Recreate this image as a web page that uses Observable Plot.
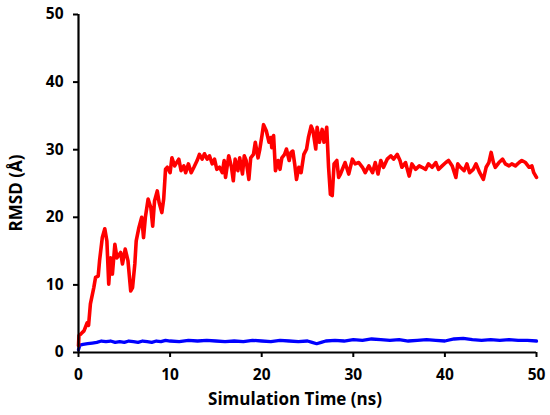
<!DOCTYPE html>
<html>
<head>
<meta charset="utf-8">
<script src="https://cdn.jsdelivr.net/npm/d3@7"></script>
<script src="https://cdn.jsdelivr.net/npm/@observablehq/plot@0.6"></script>
<style>
  html, body { margin: 0; padding: 0; background: #fff; }
  #chart { width: 550px; height: 415px; }
</style>
</head>
<body>
<div id="chart"></div>
<script>
const xTicks = [0, 10, 20, 30, 40, 50];
const yTicks = [0, 10, 20, 30, 40, 50];
const xLabel = "Simulation Time (ns)";
const yLabel = "RMSD (Å)";

const redTime = [0,0.05,0.3,0.6,0.95,1.1,1.3,1.67,1.86,2.15,2.3,2.6,2.87,3.1,3.3,3.5,3.7,3.97,4.2,4.6,4.8,5.1,5.4,5.7,5.9,6.15,6.3,6.6,6.9,7.1,7.3,7.6,7.9,8.1,8.3,8.6,8.8,9.1,9.3,9.5,9.7,10,10.2,10.5,10.95,11.2,11.5,11.7,12.0,12.3,12.6,12.95,13.2,13.5,13.75,14.05,14.3,14.6,14.85,15.1,15.4,15.7,15.9,16.05,16.4,16.7,16.9,17.1,17.4,17.6,17.9,18.1,18.3,18.6,18.8,19.1,19.3,19.6,19.8,20.05,20.2,20.5,20.8,21.0,21.1,21.3,21.5,21.8,22.0,22.2,22.5,22.7,23.0,23.2,23.4,23.6,23.8,24.05,24.3,24.6,24.9,25.1,25.4,25.6,25.9,26.05,26.3,26.6,26.8,27.1,27.3,27.5,27.7,27.9,28.2,28.4,28.6,29.1,29.5,29.9,30.2,30.6,31.0,31.3,31.7,32.1,32.4,32.7,33.0,33.3,33.7,34.1,34.4,34.8,35.1,35.3,35.7,36.1,36.4,36.8,37.2,37.5,37.9,38.2,38.6,39.0,39.3,39.7,40.1,40.4,40.8,41.2,41.4,41.7,42.1,42.4,42.7,43.1,43.4,43.8,44.2,44.5,44.8,45.05,45.3,45.5,45.9,46.3,46.6,47.0,47.3,47.7,48.1,48.4,48.8,49.2,49.5,49.7,50];
const redRmsd = [1.0,2.5,2.8,3.2,4.4,4.0,7.2,9.6,11.1,11.3,13.6,17,18.3,16.5,10.1,14,11.6,16,14,14.8,13.1,15.3,13.6,9.1,9.6,13.1,16.5,18.5,20,17,20,22.7,21.4,18.7,22.4,23.9,22.2,20.7,22.7,27.1,27.4,26.6,28.8,27.6,28.6,26.9,27.6,26.6,27.9,26.6,27.4,28.4,29.3,28.6,29.4,28.6,29.1,27.9,28.6,27.1,27.4,26.6,28.4,25.9,29.1,27.4,25.4,28.6,26.9,28.8,26.4,29.1,28.4,25.6,28.8,29.3,31.1,28.8,30.1,32.3,33.7,32.8,31.1,31.8,30.3,32.1,26.9,28.4,27.1,28.8,29.3,30.1,28.4,29.6,29.8,27.9,25.6,27.4,26.6,29.3,30.1,31.8,33.5,32.8,30.1,33.3,31.1,33.0,31.1,33.3,27.4,23.4,23.2,27.9,28.4,25.9,26.4,28.1,26.4,28.6,27.9,28.1,27.4,26.6,27.6,26.6,28.1,26.4,28.4,27.4,28.6,29.1,28.6,29.3,28.4,27.4,28.1,26.1,27.9,27.1,27.6,27.4,27.1,27.9,27.4,28.1,27.1,27.6,28.1,28.4,27.6,25.9,27.9,27.4,26.9,27.9,26.6,27.1,27.9,26.6,25.6,27.4,28.1,29.6,28.1,27.4,28.1,28.6,27.9,27.6,27.9,27.6,28.1,28.4,28.1,27.4,27.6,26.6,25.9];

const blueTime = [0,0.15,0.5,1,1.5,2,2.5,3,3.5,4,4.5,5,5.5,6,6.5,7,7.5,8,8.5,9,9.5,10,11,12,13,14,15,16,17,18,19,20,21,22,23,24,25,25.5,26,26.5,27,28,29,30,31,32,33,34,35,36,37,38,39,40,41,42,43,44,45,46,47,48,49,50];
const blueRmsd = [0.4,1.1,1.2,1.3,1.4,1.5,1.7,1.6,1.7,1.5,1.6,1.5,1.7,1.6,1.5,1.7,1.6,1.5,1.7,1.6,1.8,1.7,1.6,1.8,1.7,1.8,1.7,1.6,1.7,1.6,1.8,1.7,1.6,1.8,1.7,1.6,1.7,1.5,1.3,1.5,1.7,1.8,1.7,1.9,1.8,2.0,1.9,1.8,1.9,1.7,1.8,1.9,1.8,1.7,2.0,2.1,1.9,1.8,1.9,1.8,1.9,1.8,1.8,1.7];

const red = redTime.map((t, i) => ({t, v: redRmsd[i]}));
const blue = blueTime.map((t, i) => ({t, v: blueRmsd[i]}));

const font = "'Open Sans', 'Liberation Sans', sans-serif";

const plot = Plot.plot({
  width: 550,
  height: 415,
  marginLeft: 78,
  marginRight: 14,
  marginTop: 14,
  marginBottom: 63,
  style: {fontFamily: font, fontWeight: "bold", fontSize: "15px", color: "#000", background: "#fff", overflow: "visible"},
  x: {domain: [0, 50]},
  y: {domain: [0, 50]},
  marks: [
    Plot.line(blue, {x: "t", y: "v", stroke: "#0000ff", strokeWidth: 3.3}),
    Plot.line(red, {x: "t", y: "v", stroke: "#ff0000", strokeWidth: 3.6}),
    Plot.axisX({ticks: xTicks, tickSize: 5, tickPadding: 11, strokeWidth: 2, label: null, fontSize: 15.5}),
    Plot.axisY({ticks: yTicks, tickSize: 5, tickPadding: 10, strokeWidth: 2, label: null, fontSize: 15.5}),
    Plot.ruleX([0], {stroke: "#000", strokeWidth: 2.2}),
    Plot.ruleY([0], {stroke: "#000", strokeWidth: 2.2})
  ]
});

const svg = d3.select(plot);
svg.append("text")
  .attr("x", 295).attr("y", 405)
  .attr("text-anchor", "middle")
  .style("font-family", font).style("font-weight", "bold").style("font-size", "17px")
  .text(xLabel);
svg.append("text")
  .attr("transform", "translate(22,193) rotate(-90)")
  .attr("text-anchor", "middle")
  .style("font-family", font).style("font-weight", "bold").style("font-size", "17px")
  .text(yLabel);

document.getElementById("chart").appendChild(plot);
</script>
</body>
</html>
